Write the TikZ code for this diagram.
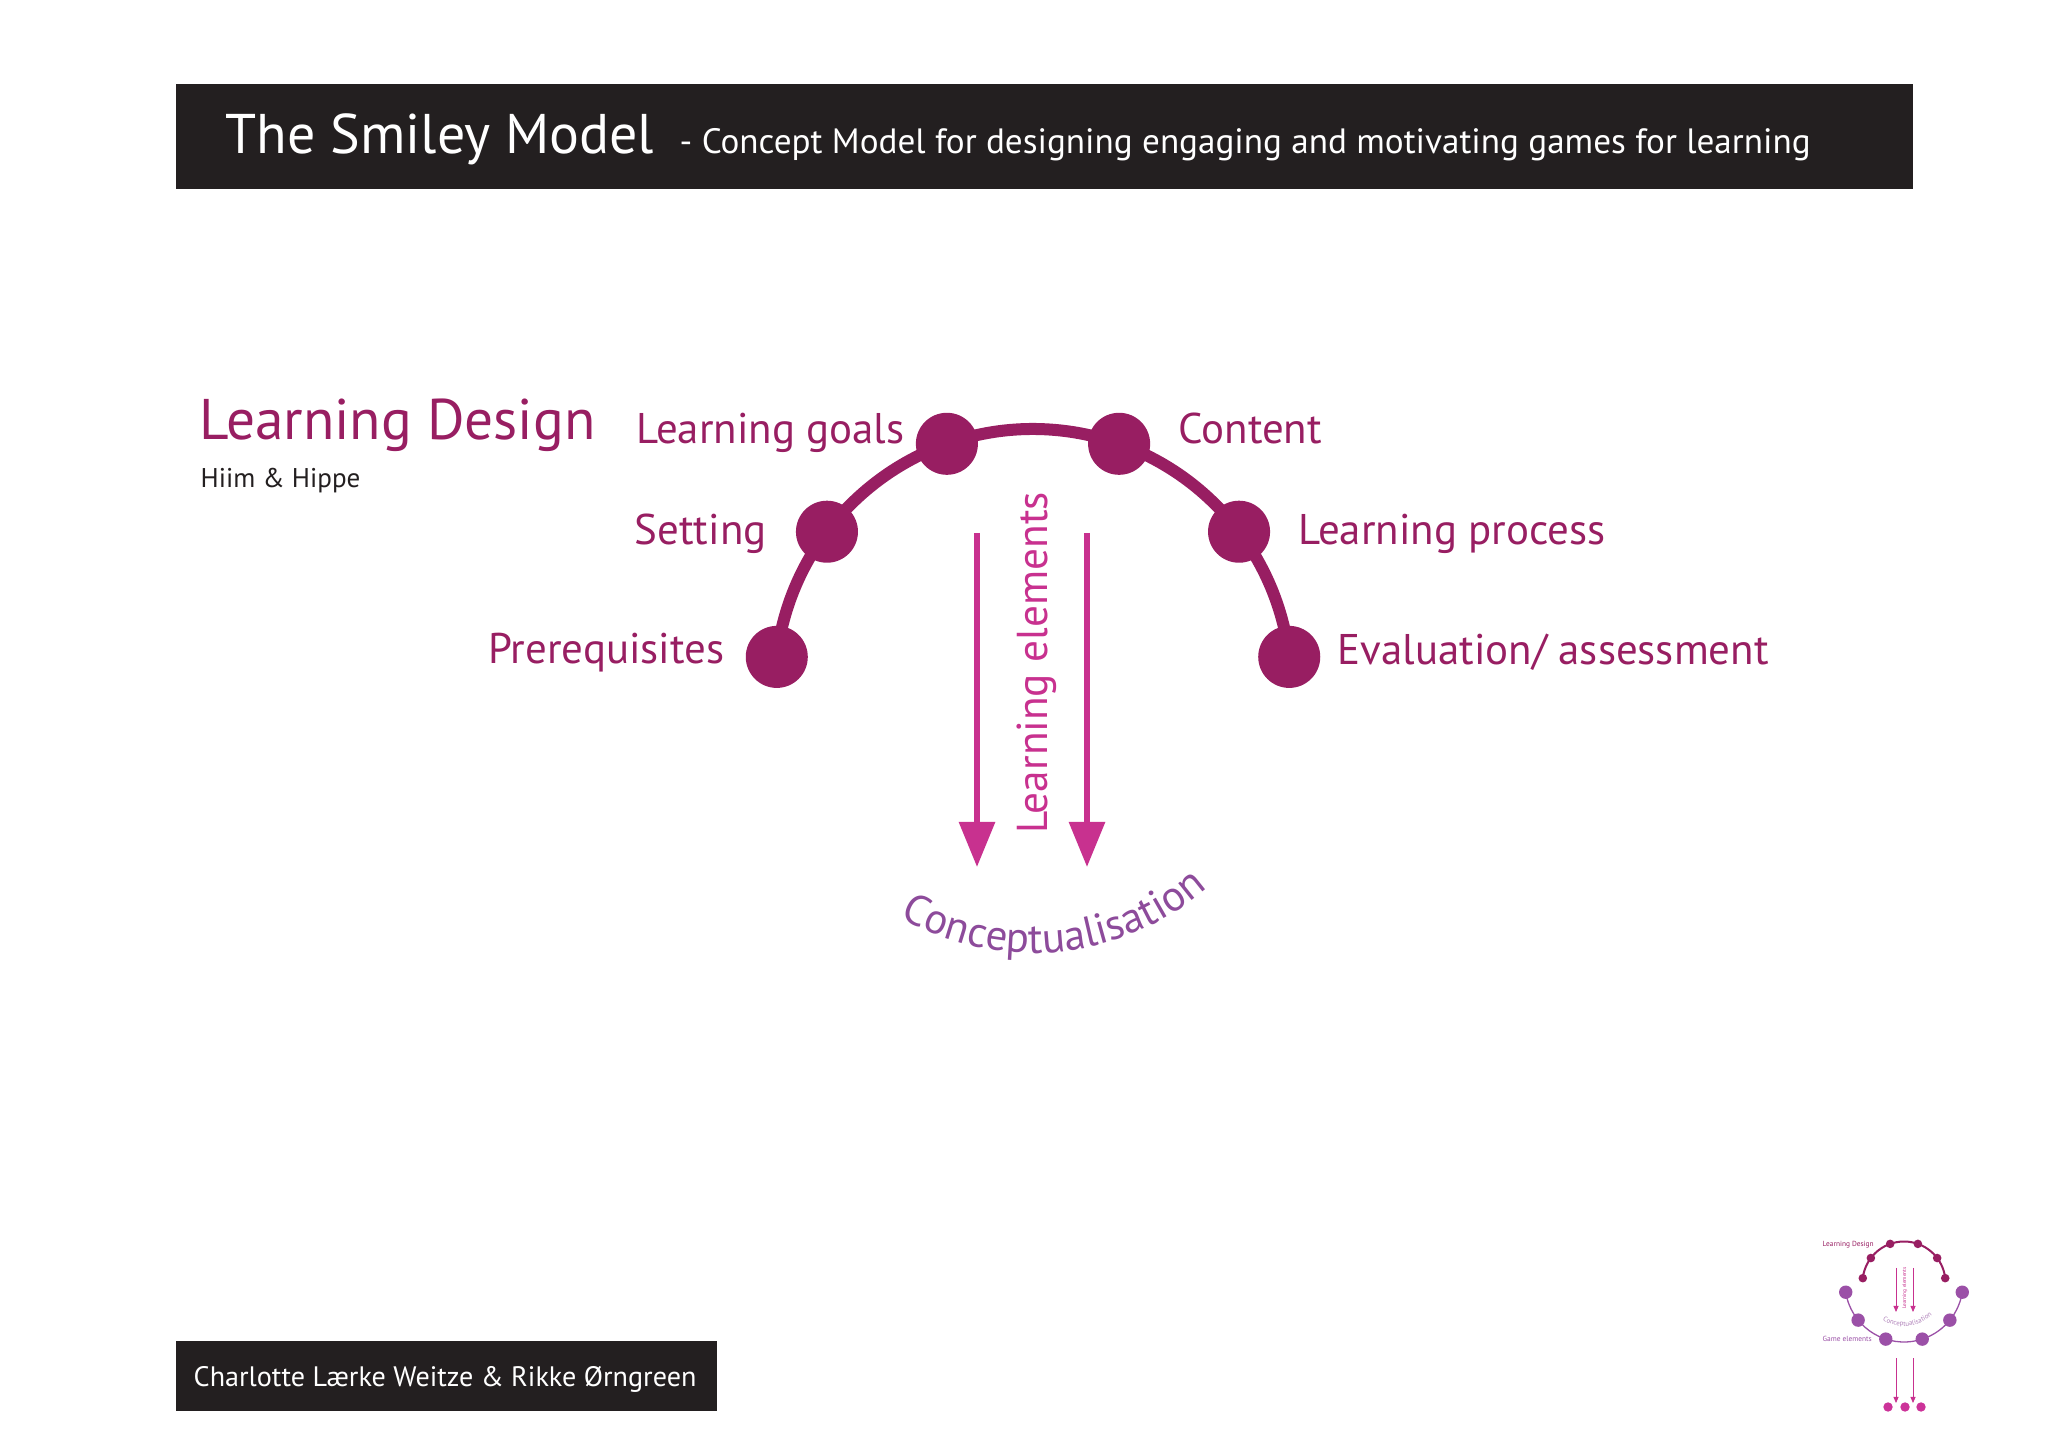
\documentclass[tikz,border=0pt]{standalone}
\usepackage{fontspec}
\setmainfont{PT Sans}
\usetikzlibrary{calc,arrows.meta,decorations.text}

\definecolor{ldplum}{HTML}{981E62}
\definecolor{flowpink}{HTML}{C8318F}
\definecolor{conceptpurple}{HTML}{8D4B9B}
\definecolor{gamepurple}{HTML}{9B50A7}
\definecolor{dotpink}{HTML}{CC3399}
\definecolor{barblack}{HTML}{231F20}

\newcommand\concfont{\fontsize{12.2}{14}\selectfont\color{conceptpurple}}
\newcommand\thumbconcfont{\fontsize{1.95}{2.2}\selectfont\color{conceptpurple!70}}

\begin{document}
\begin{tikzpicture}[x=0.01cm, y=0.01cm, every node/.style={inner sep=0pt}]
  % -----------------------------
  % SETTINGS
  % -----------------------------
  \def\cx{1033}   % centre of the smile arc
  \def\cy{761}
  \def\R{258}     % arc radius
  \def\tx{1904}   % centre of the small model
  \def\ty{165}

  % -----------------------------
  % STYLES
  % -----------------------------
  \tikzset{
    dot/.style={circle, fill=ldplum, minimum size=0.62cm},
    lbl/.style={font=\fontsize{12.2}{15}\selectfont, text=ldplum},
    flow/.style={draw=flowpink, line width=0.06cm, -{Triangle[width=0.35cm, length=0.45cm]}},
    barfill/.style={fill=barblack},
    tdot/.style={circle, fill=ldplum, minimum size=0.086cm},
    tgdot/.style={circle, fill=gamepurple, minimum size=0.134cm},
    tpdot/.style={circle, fill=dotpink, minimum size=0.094cm},
    tflow/.style={draw=flowpink, line width=0.008cm, -{Triangle[width=0.05cm, length=0.06cm]}},
  }

  \useasboundingbox (0,0) rectangle (2048,1448);
  \fill[white] (0,0) rectangle (2048,1448);

  % -----------------------------
  % TITLE BAR
  % -----------------------------
  \fill[barfill] (176,1259) rectangle (1913,1364);
  \node[anchor=base west, text=white, font=\fontsize{15.9}{19}\selectfont] (title) at (225,1294) {The Smiley Model};
  \node[anchor=base west, text=white, font=\fontsize{10}{12}\selectfont] (subtitle) at (679,1294)
    {- Concept Model for designing engaging and motivating games for learning};

  % heading
  \node[anchor=base west, text=ldplum, font=\fontsize{16.3}{19}\selectfont] (ldesign) at (199,1008) {Learning Design};
  \node[anchor=base west, text=barblack, font=\fontsize{7.7}{9}\selectfont] (hiim) at (200,960) {Hiim \& Hippe};

  % -----------------------------
  % SMILE ARC + DOTS
  % -----------------------------
  \coordinate (C) at (\cx,\cy);
  \draw[ldplum, line width=0.12cm] ($(C)+(173.3:\R)$) arc[start angle=173.3, end angle=6.7, radius=\R];
  \foreach \a/\n in {173.3/pre, 143/set, 109.5/goal, 70.5/cont, 37/proc, 6.7/eval}
    \node[dot] (\n) at ($(C)+(\a:\R)$) {};

  % labels
  \node[lbl, anchor=base east] (preL)  at ([xshift=-0.20cm, yshift=-0.07cm]pre.west)  {Prerequisites};
  \node[lbl, anchor=base east] (setL)  at ([xshift=-0.28cm, yshift=-0.13cm]set.west)  {Setting};
  \node[lbl, anchor=base east] (goalL) at ([xshift=-0.10cm]goal.west) {Learning goals};
  \node[lbl, anchor=base west] (contL) at ([xshift=0.27cm]cont.east)  {Content};
  \node[lbl, anchor=base west] (procL) at ([xshift=0.27cm, yshift=-0.13cm]proc.east) {Learning process};
  \node[lbl, anchor=base west] (evalL) at ([xshift=0.16cm, yshift=-0.08cm]eval.east) {Evaluation/ assessment};

  % -----------------------------
  % ARROWS + CONCEPTUALISATION
  % -----------------------------
  \coordinate (f1s) at (977,915);  \coordinate (f1e) at (977,581);
  \coordinate (f2s) at (1087,915); \coordinate (f2e) at (1087,581);
  \draw[flow] (f1s) -- (f1e);
  \draw[flow] (f2s) -- (f2e);
  \node[rotate=90, anchor=base, text=flowpink, font=\fontsize{12.3}{15}\selectfont] (elem) at (1047,785) {Learning elements};

  \path[decorate, decoration={text along path, text align=center, text={|\concfont|Conceptualisation}}]
    ($(C)+(-124.5:266)$) arc[start angle=-124.5, end angle=-44.5, radius=266];

  % -----------------------------
  % FOOTER
  % -----------------------------
  \fill[barfill] (176,37) rectangle (717,107);
  \node[anchor=base west, text=white, font=\fontsize{8}{10}\selectfont] (authors) at (193,62)
    {Charlotte Lærke Weitze \& Rikke Ørngreen};

  % -----------------------------
  % SMALL MODEL (bottom right)
  % -----------------------------
  \coordinate (T) at (\tx,\ty);
  \draw[ldplum, line width=0.02cm] ($(T)+(173.3:41.5)$) arc[start angle=173.3, end angle=6.7, radius=41.5];
  \foreach \a [count=\k] in {173.3, 143, 109.5, 70.5, 37, 6.7}
    \node[tdot] (t\k) at ($(T)+(\a:41.5)$) {};
  \draw[gamepurple, line width=0.013cm] ($(T)+(-171:59)$) arc[start angle=-171, end angle=-9, radius=59];
  \foreach \a [count=\k] in {-171, -141, -108, -72, -39, -9}
    \node[tgdot] (g\k) at ($(T)+(\a:59)$) {};

  \node[anchor=west, text=ldplum, font=\fontsize{2.1}{2.5}\selectfont] (tld) at (1822,203) {Learning Design};
  \node[anchor=west, text=gamepurple, font=\fontsize{2.1}{2.5}\selectfont] (tge) at (1822,109) {Game elements};

  \coordinate (tf1s) at (1896,180); \coordinate (tf1e) at (1896,136);
  \coordinate (tf2s) at (1913,180); \coordinate (tf2e) at (1913,136);
  \coordinate (tf3s) at (1896,90);  \coordinate (tf3e) at (1896,45);
  \coordinate (tf4s) at (1913,90);  \coordinate (tf4e) at (1913,45);
  \foreach \s/\e in {tf1s/tf1e, tf2s/tf2e, tf3s/tf3e, tf4s/tf4e}
    \draw[tflow] (\s) -- (\e);
  \node[rotate=90, anchor=base, text=flowpink, font=\fontsize{1.5}{2}\selectfont] (telem) at (1906,160) {Learning elements};
  \path[decorate, decoration={text along path, text align=center, text={|\thumbconcfont|Conceptualisation}}]
    ($(T)+(-124.5:43)$) arc[start angle=-124.5, end angle=-44.5, radius=43];

  \foreach \x [count=\k] in {1888, 1905, 1921}
    \node[tpdot] (p\k) at (\x,41) {};
\end{tikzpicture}
\end{document}
